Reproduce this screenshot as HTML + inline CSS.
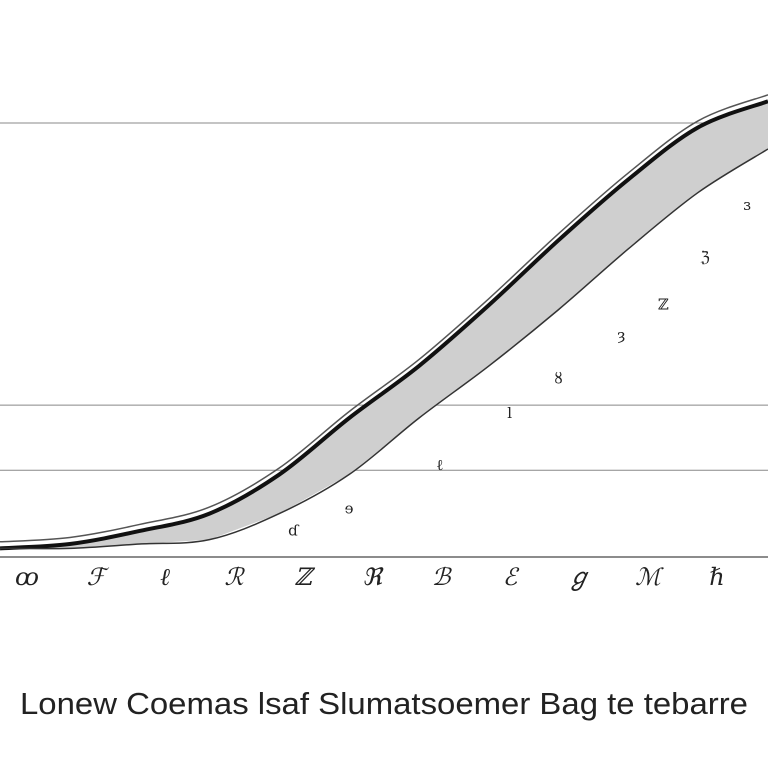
<!DOCTYPE html>
<html><head><meta charset="utf-8"><style>
body{margin:0;background:#fff;width:768px;height:768px;overflow:hidden}
svg{display:block}
</style></head><body>
<svg width="768" height="768" viewBox="0 0 768 768">
<g id="grid"></g>
<path id="band" fill="#cfcfcf" stroke="none"/>
<path id="upper" fill="none" stroke="#111" stroke-width="4"/>
<path id="upper2" fill="none" stroke="#555" stroke-width="1.5"/>
<path id="lower" fill="none" stroke="#333" stroke-width="1.5"/>
<g id="ticks"></g>
<g id="marks"></g>
<text x="384" y="714" text-anchor="middle" font-family="Liberation Sans, sans-serif" font-size="31" fill="#222" textLength="728" lengthAdjust="spacingAndGlyphs">Lonew Coemas lsaf Slumatsoemer Bag te tebarre</text>
</svg>
<script>
const upperValues=[2,3,6,10,19,32,44,58,73,87,99,105];
const lowerValues=[2,2,3,4,10,19,32,44,57,71,84,94];
const gridValues=[100,35,20,0];
const tickLabels=["ꝏ","ℱ","ℓ","ℛ","ℤ","ℜ","ℬ","ℰ","ℊ","ℳ","ℏ"];
const glyphLabels=["ɜ","ℨ","ℤ","ȝ","ȣ","l","ℓ","ɘ","ɗ"];
const glyphValues=[80,68,57,50,40,32,20,10,5];
const glyphX=[10.7,10.1,9.5,8.9,8.0,7.3,6.3,5.0,4.2];
const W=768;
const x=i=>i*W/11;
const y=v=>557-v*4.34;
const ns="http://www.w3.org/2000/svg";
function pathOf(vals){
  let d="M"+x(0)+","+y(vals[0]);
  for(let i=1;i<vals.length;i++){
    const x0=x(i-1),y0=y(vals[i-1]),x1=x(i),y1=y(vals[i]);
    const xm=(x0+x1)/2;
    d+=" C"+xm+","+y0+" "+xm+","+y1+" "+x1+","+y1;
  }
  return d;
}
function smooth(vals){ // catmull-rom
  let pts=vals.map((v,i)=>[x(i),y(v)]);
  let d="M"+pts[0][0]+","+pts[0][1];
  for(let i=0;i<pts.length-1;i++){
    const p0=pts[Math.max(0,i-1)],p1=pts[i],p2=pts[i+1],p3=pts[Math.min(pts.length-1,i+2)];
    d+=" C"+(p1[0]+(p2[0]-p0[0])/6)+","+(p1[1]+(p2[1]-p0[1])/6)+" "+(p2[0]-(p3[0]-p1[0])/6)+","+(p2[1]-(p3[1]-p1[1])/6)+" "+p2[0]+","+p2[1];
  }
  return d;
}
const up=smooth(upperValues), lo=smooth(lowerValues);
document.getElementById('upper').setAttribute('d',up);
const up2=smooth(upperValues.map(v=>v+1.5));
document.getElementById('upper2').setAttribute('d',up2);
document.getElementById('lower').setAttribute('d',lo);
// band
let rev=lowerValues.map((v,i)=>[x(i),y(v)]).reverse();
let bd=up+" L"+rev.map(p=>p[0]+","+p[1]).join(" L")+" Z";
document.getElementById('band').setAttribute('d',bd);
const grid=document.getElementById('grid');
gridValues.forEach(v=>{
  const l=document.createElementNS(ns,'line');
  
  
  l.setAttribute('x1',0);l.setAttribute('x2',W);
  l.setAttribute('y1',y(v));l.setAttribute('y2',y(v));
  l.setAttribute('stroke',v===0?'#666':'#888');l.setAttribute('stroke-width',v===0?1.5:1);
  grid.appendChild(l);
});
const ticks=document.getElementById('ticks');
tickLabels.forEach((t,i)=>{
  const e=document.createElementNS(ns,'text');
  
  
  e.setAttribute('x',27+i*69);e.setAttribute('y',585);
  e.setAttribute('text-anchor','middle');e.setAttribute('font-size','24');
  e.setAttribute('font-family','DejaVu Serif, serif');e.setAttribute('font-style','italic');
  e.setAttribute('fill','#222');e.textContent=t;ticks.appendChild(e);
});
const marks=document.getElementById('marks');
glyphLabels.forEach((t,i)=>{
  const e=document.createElementNS(ns,'text');
  
  
  e.setAttribute('x',x(glyphX[i]));e.setAttribute('y',y(glyphValues[i]));
  e.setAttribute('text-anchor','middle');e.setAttribute('font-size','15');
  e.setAttribute('font-family','DejaVu Serif, serif');
  e.setAttribute('fill','#222');e.textContent=t;marks.appendChild(e);
});
</script>
</body></html>
